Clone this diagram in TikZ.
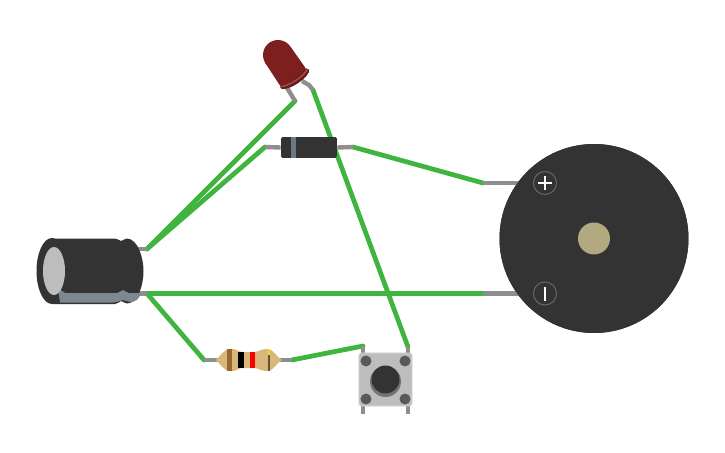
\documentclass[tikz,border=0pt]{standalone}
\usepackage{xcolor}
\definecolor{wiregreen}{HTML}{3FB53F}
\definecolor{leadgrey}{HTML}{8E8E8E}
\definecolor{partdark}{HTML}{333333}
\definecolor{ledred}{HTML}{7D1F1F}
\definecolor{ledrim}{HTML}{A24C4C}
\definecolor{bandgrey}{HTML}{6A7A85}
\definecolor{capstrip}{HTML}{7F878E}
\definecolor{capface}{HTML}{BDBDBD}
\definecolor{resbody}{HTML}{D9B679}
\definecolor{piezo}{HTML}{B2A980}
\tikzset{
wirev1/.style={draw=wiregreen,line width=2.7pt,line cap=round},
leadv1/.style={draw=leadgrey,line width=2.5pt},
buzzerbody/.style={circle,fill=partdark,inner sep=0pt,minimum size=3.78cm},
piezodisc/.style={circle,fill=piezo,inner sep=0pt,minimum size=.64cm},
polering/.style={circle,draw=black!60,fill=none,line width=.6pt,inner sep=0pt,minimum size=.46cm},
diodebody/.style={rectangle,rounded corners=1pt,fill=partdark,inner sep=0pt,minimum width=1.12cm,minimum height=.42cm},
diodeband/.style={rectangle,fill=bandgrey,inner sep=0pt,minimum width=.1cm,minimum height=.42cm},
buttonbody/.style={rectangle,rounded corners=1pt,draw=black!15,fill=capface,inner sep=0pt,minimum width=1.06cm,minimum height=1.06cm},
buttonpin/.style={circle,fill=black!65,inner sep=0pt,minimum size=.22cm},
buttoncap/.style={circle,fill=partdark,inner sep=0pt,minimum size=.56cm},
buttonshadow/.style={circle,fill=black!55,inner sep=0pt,minimum size=.62cm},
resband/.style={rectangle,inner sep=0pt,minimum width=.11cm},
}
\begin{document}
\begin{tikzpicture}[x=.02cm,y=-.02cm]
    \useasboundingbox (0,0) rectangle (725,453);
    \coordinate (ledleft) at (295,101);
    \coordinate (ledleftin) at (286,86);
    \coordinate (ledright) at (313,90);
    \coordinate (ledrightbend) at (309,85);
    \coordinate (ledrightin) at (302,81);
    \coordinate (diodeleft) at (265,147);
    \coordinate (dioderight) at (353,147);
    \coordinate (capplus) at (147,249);
    \coordinate (capminus) at (147,293.5);
    \coordinate (resleft) at (204,360);
    \coordinate (resright) at (292,360);
    \coordinate (btnleft) at (363,346);
    \coordinate (btnright) at (408,347);
    \coordinate (btnleftlow) at (363,414);
    \coordinate (btnrightlow) at (408,414);
    \coordinate (buzzplus) at (483,183);
    \coordinate (buzzminus) at (483,293.5);

    \node[buzzerbody] at (594,238.5) (buzzer) {};
    \node[diodebody] at (309,147.5) (diode) {};
    \node[buttonbody] at (385.5,379.5) (button) {};

    \draw[wirev1] (ledleft) to (capplus);
    \draw[wirev1] (diodeleft) to (capplus);
    \draw[wirev1] (ledright) to (btnright);
    \draw[wirev1] (dioderight) to (buzzplus);
    \draw[wirev1] (capminus) to (buzzminus);
    \draw[wirev1] (capminus) to (resleft);
    \draw[wirev1] (resright) to (btnleft);

    \draw[leadv1] (ledleft) to (ledleftin);
    \draw[leadv1] (ledright) to (ledrightbend) to (ledrightin);
    \draw[leadv1] (diodeleft) to (diode.west);
    \draw[leadv1] (dioderight) to (diode.east);
    \draw[leadv1] (buzzplus) to (buzzer.center |- buzzplus);
    \draw[leadv1] (buzzminus) to (buzzer.center |- buzzminus);
    \draw[leadv1] (capplus) to +(-15,0);
    \draw[leadv1] (capminus) to +(-15,0);
    \draw[leadv1] (resleft) to (resright);
    \draw[leadv1] (btnleft) to (btnleftlow);
    \draw[leadv1] (btnright) to (btnrightlow);

    \node[buzzerbody] at (594,238.5) (buzzertop) {};
    \node[piezodisc] at (594,238.5) (disc) {};
    \node[polering] at (545,183) (ringplus) {};
    \node[polering] at (545,293.5) (ringminus) {};
    \draw[white,line width=1.1pt] (ringplus.center) +(-7,0) to +(7,0);
    \draw[white,line width=1.1pt] (ringplus.center) +(0,-7) to +(0,7);
    \draw[white,line width=1.1pt] (ringminus.center) +(0,-7) to +(0,7);

    \node[diodebody] at (309,147.5) (diodetop) {};
    \node[diodeband] at (293.5,147.5) (band) {};

    \node[buttonbody] at (385.5,379.5) (buttontop) {};
    \node[buttonpin] at (366,361) (pin1) {};
    \node[buttonpin] at (405,361) (pin2) {};
    \node[buttonpin] at (366,399) (pin3) {};
    \node[buttonpin] at (405,399) (pin4) {};
    \node[buttonshadow] at (385.5,381.5) (shadow) {};
    \node[buttoncap] at (385.5,379.5) (cap) {};

    \fill[resbody] (216,360) .. controls (221,356) and (223,349) .. (231,349)
        .. controls (238,349) and (238,352) .. (243,352) -- (254,352)
        .. controls (259,352) and (260,349) .. (267,349)
        .. controls (274,349) and (276,357) .. (282,360)
        .. controls (276,363) and (274,371) .. (267,371)
        .. controls (260,371) and (259,368) .. (254,368) -- (243,368)
        .. controls (238,368) and (238,371) .. (231,371)
        .. controls (223,371) and (221,364) .. (216,360) -- cycle;
    \node[resband,fill=brown!80!black,minimum height=.44cm] at (229.5,360) (band1) {};
    \node[resband,fill=black,minimum height=.32cm] at (241,360) (band2) {};
    \node[resband,fill=red,minimum height=.32cm] at (252.5,360) (band3) {};
    \fill[yellow!75!brown] (268,349) rectangle (270,355);
    \fill[black!55!resbody] (268,355) rectangle (270,371);

    \fill[partdark] (52,238.5) -- (115,238.5) .. controls (118,238.5) and (120,241) .. (121,241)
        .. controls (123,241) and (124,238.5) .. (127,238.5) .. controls (138,239) and (143.5,258) .. (143.5,271)
        .. controls (143.5,285) and (138,303.5) .. (127,303.5) .. controls (124,303.5) and (123,301) .. (121,301)
        .. controls (120,301) and (118,304) .. (115,304) -- (52,304) -- cycle;
    \fill[partdark] (52,271) circle [x radius=15.5,y radius=33];
    \fill[capstrip] (58,288) -- (65,293) -- (117,293) .. controls (120,293) and (121,290) .. (123,290)
        .. controls (125,290) and (126,293) .. (129,293) -- (141,293) .. controls (139,299) and (136,302) .. (130,302)
        .. controls (127,302) and (126,300) .. (123,300) .. controls (120,300) and (118,302.5) .. (113,302.5) -- (60,302.5) -- cycle;
    \fill[capface] (54,271) circle [x radius=11,y radius=24];

    \begin{scope}[shift={(278,55)},rotate=33]
    \fill[ledred!85!black] (1,29) circle [x radius=17,y radius=5.5];
    \draw[ledrim,line width=.9pt] (-15,28) .. controls (-7,32) and (9,32) .. (17,28);
    \fill[ledred] (0,0) circle [radius=15];
    \fill[ledred] (-15,0) -- (15,0) -- (16,26) .. controls (7,30) and (-7,30) .. (-15,27) -- cycle;
    \end{scope}
\end{tikzpicture}
\end{document}
